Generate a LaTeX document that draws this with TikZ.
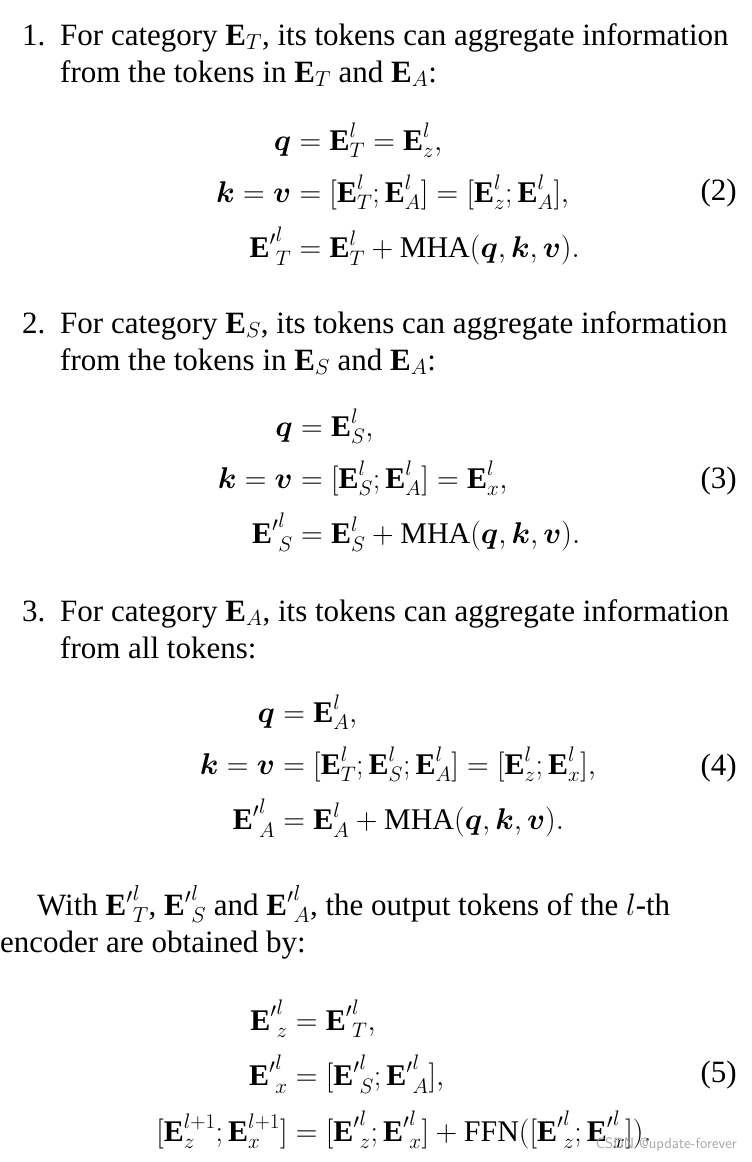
\RequirePackage{fix-cm}
\documentclass[tikz,border=0pt]{standalone}
\usepackage{amsmath,amssymb}
\usepackage{fontspec}
\setmainfont{Liberation Serif}
\begin{document}
\begin{tikzpicture}[x=1pt,y=-1pt,
  txt/.style={anchor=base west,inner sep=0,font=\fontsize{31}{38}\selectfont},
  eq/.style={inner sep=0,font=\fontsize{30}{37}\selectfont},
  num/.style={anchor=base east,inner sep=0,font=\fontsize{31}{38}\selectfont}]
\useasboundingbox (0,0) rectangle (752,1162);
\newcommand{\bE}{\mathbf{E}}
\newcommand{\bq}{\boldsymbol{q}}
\newcommand{\bk}{\boldsymbol{k}}
\newcommand{\bv}{\boldsymbol{v}}
\node[txt] (n1) at (22,45) {1.};
\node[txt] (t1a) at (60,45) {For category $\bE_T$, its tokens can aggregate information};
\node[txt] (t1b) at (60,82) {from the tokens in $\bE_T$ and $\bE_A$:};
\node[eq] (e2) at (398,196) {$\begin{aligned}\bq&=\bE_T^l=\bE_z^l,\\[10pt]
\bk=\bv&=[\bE_T^l;\bE_A^l]=[\bE_z^l;\bE_A^l],\\[10pt]
{\bE'}_T^l&=\bE_T^l+\mathrm{MHA}(\bq,\bk,\bv).\end{aligned}$};
\node[num] (m2) at (737,200) {(2)};
\node[txt] (n2) at (22,333) {2.};
\node[txt] (t2a) at (60,333) {For category $\bE_S$, its tokens can aggregate information};
\node[txt] (t2b) at (60,370) {from the tokens in $\bE_S$ and $\bE_A$:};
\node[eq] (e3) at (399,482) {$\begin{aligned}\bq&=\bE_S^l,\\[10pt]
\bk=\bv&=[\bE_S^l;\bE_A^l]=\bE_x^l,\\[10pt]
{\bE'}_S^l&=\bE_S^l+\mathrm{MHA}(\bq,\bk,\bv).\end{aligned}$};
\node[num] (m3) at (737,488) {(3)};
\node[txt] (n3) at (22,621) {3.};
\node[txt] (t3a) at (60,621) {For category $\bE_A$, its tokens can aggregate information};
\node[txt] (t3b) at (60,658) {from all tokens:};
\node[eq] (e4) at (398,768) {$\begin{aligned}\bq&=\bE_A^l,\\[10pt]
\bk=\bv&=[\bE_T^l;\bE_S^l;\bE_A^l]=[\bE_z^l;\bE_x^l],\\[10pt]
{\bE'}_A^l&=\bE_A^l+\mathrm{MHA}(\bq,\bk,\bv).\end{aligned}$};
\node[num] (m4) at (737,775) {(4)};
\node[txt] (p1) at (37,915) {With ${\bE'}_T^l$, ${\bE'}_S^l$ and ${\bE'}_A^l$, the output tokens of the $l$-th};
\node[txt] (p2) at (0,952) {encoder are obtained by:};
\node[eq] (e5) at (404,1076) {$\begin{aligned}{\bE'}_z^l&={\bE'}_T^l,\\[10pt]
{\bE'}_x^l&=[{\bE'}_S^l;{\bE'}_A^l],\\[10pt]
[\bE_z^{l+1};\bE_x^{l+1}]&=[{\bE'}_z^l;{\bE'}_x^l]+\mathrm{FFN}([{\bE'}_z^l;{\bE'}_x^l]).\end{aligned}$};
\node[num] (m5) at (737,1082) {(5)};
\node[anchor=base east,inner sep=0,text=gray!70,font=\fontsize{15}{18}\selectfont\sffamily] (wm) at (737,1148) {CSDN @update-forever};
\end{tikzpicture}
\end{document}
